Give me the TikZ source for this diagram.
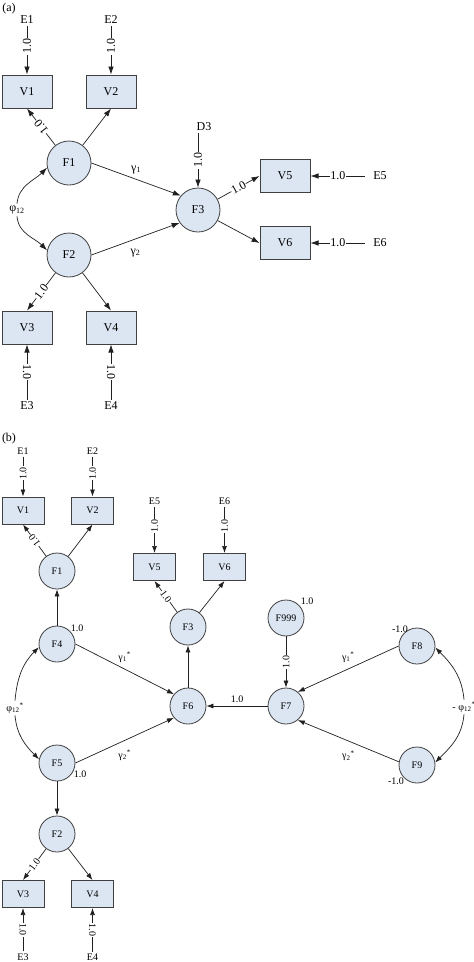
\documentclass[tikz,border=0pt]{standalone}
\usepackage{fontspec}
\setmainfont{Liberation Serif}
\usetikzlibrary{arrows.meta}
\definecolor{nfill}{HTML}{DCE6F3}
\definecolor{ncol}{HTML}{404040}
\definecolor{lcol}{HTML}{202020}
\begin{document}
\begin{tikzpicture}[x=1pt,y=1pt,
  boxa/.style={draw=ncol, fill=nfill, line width=1pt, minimum width=50pt, minimum height=33pt, inner sep=0pt},
  boxb/.style={draw=ncol, fill=nfill, line width=1pt, minimum width=42pt, minimum height=27pt, inner sep=0pt},
  cira/.style={circle, draw=ncol, fill=nfill, line width=0.8pt, minimum size=44pt, inner sep=0pt},
  cirb/.style={circle, draw=ncol, fill=nfill, line width=0.8pt, minimum size=36pt, inner sep=0pt},
  arra/.style={draw=lcol, line width=0.7pt, -{Latex[length=8pt,width=5.5pt]}},
  arrb/.style={draw=lcol, line width=0.7pt, -{Latex[length=7pt,width=5pt]}},
  wl/.style={fill=white, inner sep=0.6pt},
  txt/.style={inner sep=2pt},
]
\useasboundingbox (0,0) rectangle (474,-962);

% ---------------- (a) ----------------
\begin{scope}[font=\fontsize{12}{13}\selectfont]
\node[txt] (aLab) at (9,-9) {(a)};
\node[txt] (aE1) at (27,-20) {E1};
\node[txt] (aE2) at (111,-20) {E2};
\node[boxa] (aV1) at (27,-91.5) {V1};
\node[boxa] (aV2) at (111,-91.5) {V2};
\node[cira] (aF1) at (69,-163) {F1};
\node[cira] (aF2) at (69,-255) {F2};
\node[cira] (aF3) at (198,-210) {F3};
\node[txt] (aD3) at (204,-127) {D3};
\node[boxa] (aV5) at (285,-176) {V5};
\node[boxa] (aV6) at (285,-243) {V6};
\node[txt, inner xsep=8pt] (aE5) at (380,-176) {E5};
\node[txt, inner xsep=8pt] (aE6) at (380,-243) {E6};
\node[boxa] (aV3) at (27,-327.5) {V3};
\node[boxa] (aV4) at (111,-327.5) {V4};
\node[txt] (aE3) at (27,-406) {E3};
\node[txt] (aE4) at (111,-406) {E4};
\node[txt] (aphi) at (17,-210) {φ\textsubscript{12}};

\draw[arra] (aE1) -- node[wl, pos=0.42, rotate=90] {1.0} (aV1);
\draw[arra] (aE2) -- node[wl, pos=0.42, rotate=90] {1.0} (aV2);
\draw[arra] (aF1) -- node[wl, sloped, allow upside down] {1.0} (aV1.south);
\draw[arra] (aF1) -- (aV2.south);
\draw[arra] (aF1.east) -- node[above=2pt] {γ\textsubscript{1}} (aF3.140);
\draw[arra] (aF2.east) -- node[below=6pt] {γ\textsubscript{2}} (aF3.215);
\draw[arra] (aD3.south -| aF3.north) -- node[wl, rotate=90] {1.0} (aF3.north);
\draw[arra] (aF3) -- node[wl, sloped] {1.0} (aV5.west);
\draw[arra] (aF3) -- (aV6.west);
\draw[arra] (aE5.west) -- node[wl] {1.0} (aV5.east);
\draw[arra] (aE6.west) -- node[wl] {1.0} (aV6.east);
\draw[arra] (aF2) -- node[wl, sloped] {1.0} (aV3.north);
\draw[arra] (aF2) -- (aV4.north);
\draw[arra] (aE3) -- node[wl, rotate=-90] {1.0} (aV3);
\draw[arra] (aE4) -- node[wl, rotate=-90] {1.0} (aV4);
\draw[arra] (aphi.north) to[out=85, in=225] (aF1.192);
\draw[arra] (aphi.south) to[out=-85, in=135] (aF2.168);
\end{scope}

% ---------------- (b) ----------------
\begin{scope}[font=\fontsize{10}{11}\selectfont]
\node[txt, font=\fontsize{12}{13}\selectfont] (bLab) at (9,-439) {(b)};
\node[txt] (bE1) at (23,-451) {E1};
\node[txt] (bE2) at (92.5,-451) {E2};
\node[boxb] (bV1) at (23,-510.5) {V1};
\node[boxb] (bV2) at (92.5,-510.5) {V2};
\node[cirb] (bF1) at (57,-571) {F1};
\node[txt] (bE5) at (154.5,-501) {E5};
\node[txt] (bE6) at (224.5,-501) {E6};
\node[boxb] (bV5) at (154.5,-567) {V5};
\node[boxb] (bV6) at (224.5,-567) {V6};
\node[cirb] (bF3) at (188,-627) {F3};
\node[cirb] (bF4) at (57,-644) {F4};
\node[cirb] (bF5) at (57,-763) {F5};
\node[cirb] (bF6) at (188,-706) {F6};
\node[cirb] (bF7) at (286,-706) {F7};
\node[cirb] (bF999) at (286,-618) {F999};
\node[cirb] (bF8) at (417,-646) {F8};
\node[cirb] (bF9) at (417,-765) {F9};
\node[cirb] (bF2) at (57,-834) {F2};
\node[boxb] (bV3) at (23,-894) {V3};
\node[boxb] (bV4) at (92.5,-894) {V4};
\node[txt] (bE3) at (23,-957) {E3};
\node[txt] (bE4) at (92.5,-957) {E4};
\node[txt] (bL4) at (77,-628) {1.0};
\node[txt] (bL5) at (80,-774) {1.0};
\node[txt] (bL999) at (307,-601) {1.0};
\node[txt] (bL8) at (400,-629) {-1.0};
\node[txt] (bL9) at (396,-781) {-1.0};
\node[txt] (bphi) at (15,-708) {φ\textsubscript{12}\textsuperscript{*}};
\node[txt] (bphi2) at (464,-707) {- φ\textsubscript{12}\textsuperscript{*}};

\draw[arrb] (bE1) -- node[wl, pos=0.42, rotate=90] {1.0} (bV1);
\draw[arrb] (bE2) -- node[wl, pos=0.42, rotate=90] {1.0} (bV2);
\draw[arrb] (bF1) -- node[wl, sloped, allow upside down] {1.0} (bV1.south);
\draw[arrb] (bF1) -- (bV2.south);
\draw[arrb] (bF4) -- (bF1);
\draw[arrb] (bE5) -- node[wl, pos=0.42, rotate=90] {1.0} (bV5);
\draw[arrb] (bE6) -- node[wl, pos=0.42, rotate=90] {1.0} (bV6);
\draw[arrb] (bF3) -- node[wl, sloped] {1.0} (bV5.south);
\draw[arrb] (bF3) -- (bV6.south);
\draw[arrb] (bF6) -- (bF3);
\draw[arrb] (bF4.east) -- node[above=3pt] {γ\textsubscript{1}\textsuperscript{*}} (bF6.140);
\draw[arrb] (bF5.east) -- node[below=6pt] {γ\textsubscript{2}\textsuperscript{*}} (bF6.220);
\draw[arrb] (bF7) -- node[above] {1.0} (bF6);
\draw[arrb] (bF999) -- node[wl, rotate=90] {1.0} (bF7);
\draw[arrb] (bF8.west) -- node[above=3pt] {γ\textsubscript{1}\textsuperscript{*}} (bF7.50);
\draw[arrb] (bF9.170) -- node[below=6pt] {γ\textsubscript{2}\textsuperscript{*}} (bF7.-50);
\draw[arrb] (bphi.north) to[out=85, in=225] (bF4.190);
\draw[arrb] (bphi.south) to[out=-85, in=135] (bF5.168);
\draw[arrb] (bphi2.north) to[out=95, in=-45] (bF8.-5);
\draw[arrb] (bphi2.south) to[out=-95, in=45] (bF9.8);
\draw[arrb] (bF5) -- (bF2);
\draw[arrb] (bF2) -- node[wl, sloped] {1.0} (bV3.north);
\draw[arrb] (bF2) -- (bV4.north);
\draw[arrb] (bE3) -- node[wl, rotate=-90] {1.0} (bV3);
\draw[arrb] (bE4) -- node[wl, rotate=-90] {1.0} (bV4);
\end{scope}
\end{tikzpicture}
\end{document}
